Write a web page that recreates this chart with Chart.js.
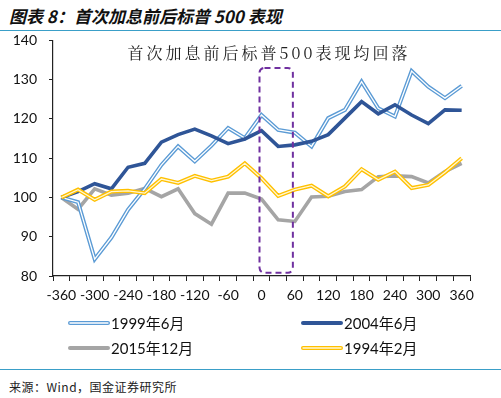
<!DOCTYPE html>
<html>
<head>
<meta charset="utf-8">
<script src="https://cdn.jsdelivr.net/npm/chart.js@4/dist/chart.umd.min.js"></script>
<style>
  html, body { margin: 0; padding: 0; background: #fff; }
  body { width: 501px; height: 398px; position: relative; overflow: hidden; font-family: "Noto Sans CJK SC", sans-serif; }
  #header { position: absolute; left: 0; top: 0; width: 501px; height: 30px; border-bottom: 1.5px solid #3a9fc8; }
  #header span { position: absolute; left: 9px; top: 3px; font-size: 17px; font-weight: bold; font-style: italic; color: #111; }
  #chartBox { position: absolute; left: 0; top: 20px; width: 501px; height: 348px; }
  #footer { position: absolute; left: 0; top: 369px; width: 501px; height: 29px; border-top: 1.5px solid #3a9fc8; }
  #footer span { position: absolute; left: 9px; top: 8px; font-size: 12px; color: #222; letter-spacing: 0.5px; }
</style>
</head>
<body>
<div id="header"><span>图表 8：首次加息前后标普 500 表现</span></div>
<div id="chartBox"><canvas id="chart"></canvas></div>
<div id="footer"><span>来源：Wind，国金证券研究所</span></div>
<script>
// days relative to first rate hike
const days = [-360, -330, -300, -270, -240, -210, -180, -150, -120, -90, -60, -30, 0,
              30, 60, 90, 120, 150, 180, 210, 240, 270, 300, 330, 360];

const s1999 = [100, 98.8, 84.3, 89.8, 96.9, 102.2, 108.3, 113.0, 109.2, 113.2, 117.7, 115.1, 121.0,
               117.2, 116.5, 113.0, 120.2, 122.3, 129.5, 122.7, 120.6, 132.2, 128.2, 125.3, 128.4];
const s2004 = [100, 101.5, 103.5, 102.2, 107.7, 108.7, 114.1, 116.0, 117.4, 115.7, 113.7, 114.9, 117.0,
               113.0, 113.4, 114.3, 116.0, 120.2, 124.4, 121.3, 123.6, 121.0, 118.8, 122.3, 122.2];
const s2015 = [100, 97.0, 102.2, 100.6, 101.1, 102.3, 100.2, 102.2, 95.9, 93.2, 101.1, 101.1, 99.6,
               94.3, 93.9, 100.1, 100.3, 101.5, 102.0, 105.3, 105.5, 105.3, 103.7, 106.6, 108.7];
const s1994 = [100, 102.0, 99.4, 101.5, 101.7, 101.1, 104.7, 103.7, 105.5, 104.3, 105.3, 108.7, 104.9,
               100.4, 102.0, 103.0, 100.3, 102.8, 107.2, 104.5, 106.6, 102.4, 103.2, 106.4, 110.0];

const seriesNames = ['1999年6月', '2004年6月', '2015年12月', '1994年2月'];
const chartTitle = '首次加息前后标普500表现均回落';
// highlighted window: day 0 to day 60
const boxDays = [0, 60];
const boxRange = [80.8, 133];

const lightBlue = '#5b9bd5';
const darkBlue = '#2f5597';
const grey = '#a5a5a5';
const yellow = '#ffc000';

// legend entries: [name, outer colour, inner colour or null]
const legendItems = [
  [seriesNames[0], lightBlue, '#fff'],
  [seriesNames[1], darkBlue, null],
  [seriesNames[2], grey, null],
  [seriesNames[3], yellow, '#fff7d6']
];

const extrasPlugin = {
  id: 'extras',
  afterDatasetsDraw(chart) {
    const ctx = chart.ctx;
    const xs = chart.scales.x, ys = chart.scales.y;

    // dashed rounded box
    const i0 = days.indexOf(boxDays[0]), i1 = days.indexOf(boxDays[1]);
    const left = xs.getPixelForValue(i0) - 2;
    const right = xs.getPixelForValue(i1) - 2;
    const top = ys.getPixelForValue(boxRange[1]);
    const bottom = ys.getPixelForValue(boxRange[0]);
    ctx.save();
    ctx.strokeStyle = '#7030a0';
    ctx.lineWidth = 2;
    ctx.setLineDash([6, 4]);
    ctx.beginPath();
    ctx.roundRect(left, top, right - left, bottom - top, 5);
    ctx.stroke();
    ctx.restore();

    // title inside plot
    ctx.save();
    ctx.font = '16px "Noto Serif CJK SC", "DejaVu Serif", "Noto Sans CJK SC", serif';
    ctx.letterSpacing = '3px';
    ctx.fillStyle = '#222';
    ctx.textAlign = 'center';
    ctx.textBaseline = 'middle';
    ctx.fillText(chartTitle, 269, 33);
    ctx.restore();

    // legend, 2 x 2
    const cols = [70, 303];
    const rows = [303, 328];
    ctx.save();
    ctx.font = '15px Lato, "Noto Sans CJK SC", sans-serif';
    ctx.textBaseline = 'middle';
    ctx.fillStyle = '#111';
    legendItems.forEach((it, k) => {
      const x = cols[k % 2], y = rows[Math.floor(k / 2)];
      ctx.lineCap = 'round';
      ctx.strokeStyle = it[1];
      ctx.lineWidth = 4;
      ctx.beginPath(); ctx.moveTo(x, y); ctx.lineTo(x + 38, y); ctx.stroke();
      if (it[2]) {
        ctx.strokeStyle = it[2];
        ctx.lineWidth = 1.3;
        ctx.beginPath(); ctx.moveTo(x, y); ctx.lineTo(x + 38, y); ctx.stroke();
      }
      ctx.fillText(it[0], x + 41, y + 1);
    });
    ctx.restore();
  }
};

function line(data, color, width, order) {
  return {
    data: data,
    borderColor: color,
    borderWidth: width,
    pointRadius: 0,
    tension: 0,
    fill: false,
    order: order
  };
}

new Chart(document.getElementById('chart'), {
  type: 'line',
  data: {
    labels: days,
    datasets: [
      line(s1994, '#fff7d6', 1.3, 1),
      line(s1994, yellow, 4, 2),
      line(s2004, darkBlue, 3.6, 3),
      line(s1999, '#fff', 1.3, 4),
      line(s1999, lightBlue, 4, 5),
      line(s2015, grey, 3.6, 6)
    ]
  },
  options: {
    responsive: true,
    maintainAspectRatio: false,
    animation: false,
    layout: { padding: { left: 0, right: 31, top: 0, bottom: 62 } },
    plugins: {
      legend: { display: false },
      tooltip: { enabled: false }
    },
    scales: {
      x: {
        offset: true,
        grid: { drawOnChartArea: false, offset: true, tickLength: 5, color: '#222', lineWidth: 1 },
        border: { color: '#222', width: 1.2 },
        ticks: {
          autoSkip: false,
          maxRotation: 0,
          padding: 6,
          color: '#111',
          font: { family: 'Lato, sans-serif', size: 14 },
          callback: function(v, i) { return i % 2 === 0 ? String(days[i]) : ''; }
        },
        afterFit: function(scale) { scale.height = 30; }
      },
      y: {
        min: 80,
        max: 140,
        grid: { drawOnChartArea: false, tickLength: 4, color: '#222' },
        border: { color: '#222', width: 1.2 },
        ticks: {
          stepSize: 10,
          padding: 12,
          color: '#111',
          font: { family: 'Lato, sans-serif', size: 14 }
        },
        afterFit: function(scale) { scale.width = 53; }
      }
    }
  },
  plugins: [extrasPlugin]
});
</script>
</body>
</html>
